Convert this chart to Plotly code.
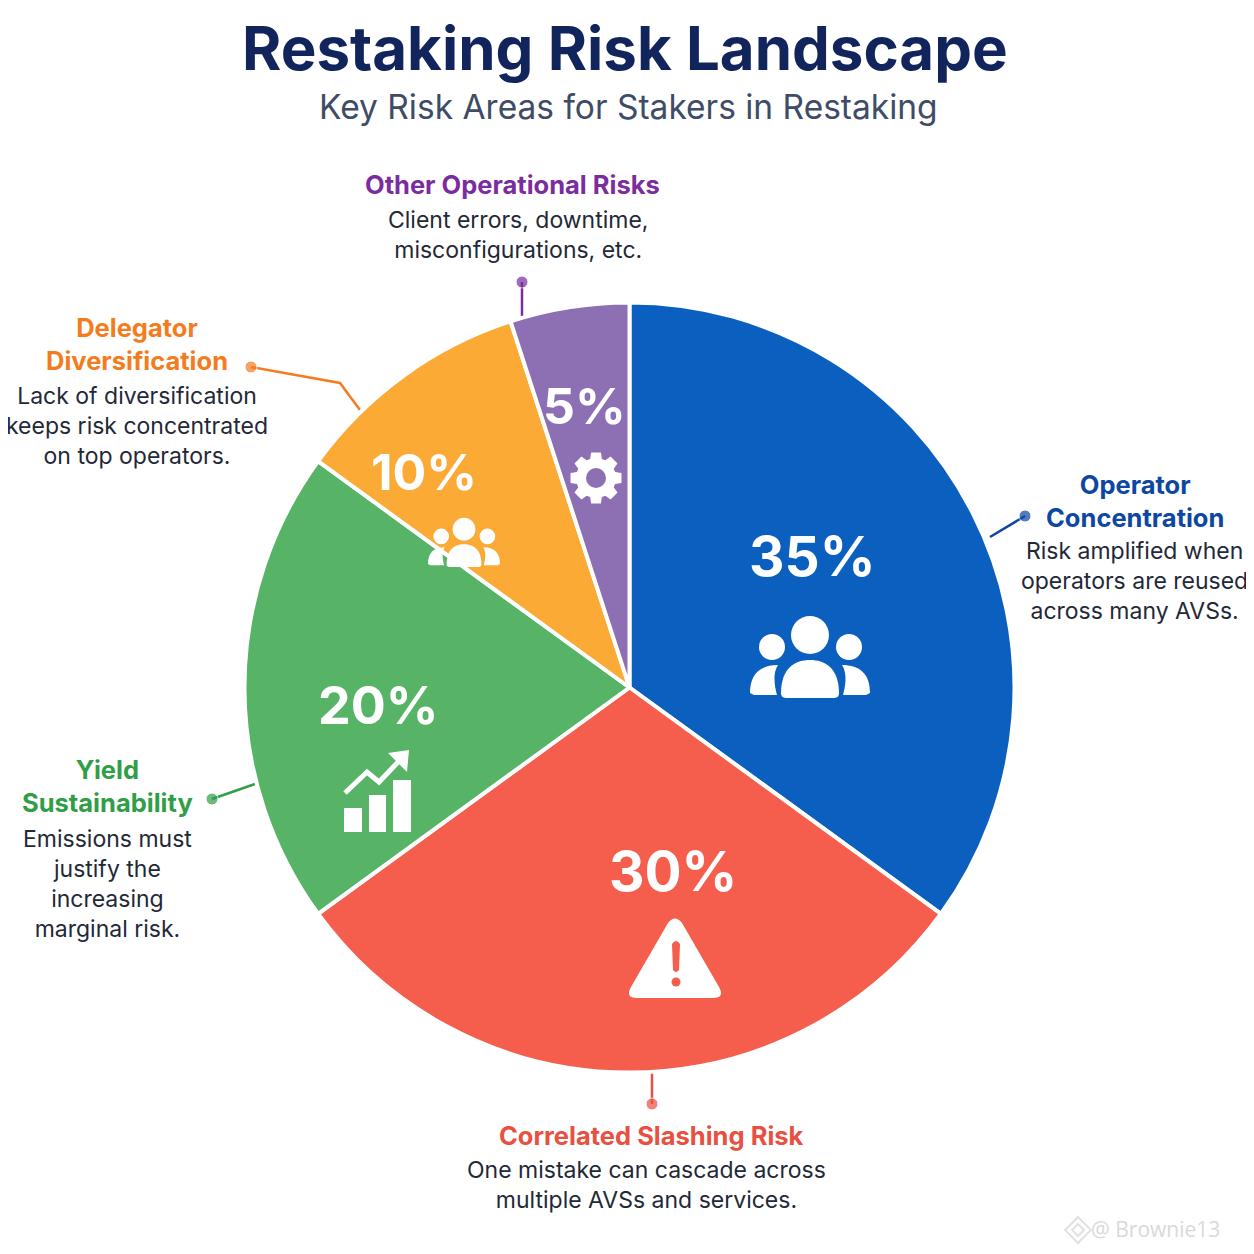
import math
import plotly.graph_objects as go

# Datos
categories = ['Operator Concentration', 'Correlated Slashing Risk', 'Yield Sustainability',
              'Delegator Diversification', 'Other Operational Risks']
values = [35, 30, 20, 10, 5]

# Paleta
slice_colors = ['#0b5fbe', '#f55e4d', '#57b366', '#fbaa35', '#8d6fb4']
head_colors = ['#0d47a1', '#e8503f', '#2f9e47', '#f47c20', '#7b2c9e']
C_BODY = '#1f2937'
C_TITLE = '#12245c'
C_SUB = '#3e4c66'
FONT = 'Inter, sans-serif'

# El body de la página deja 8px de margen; los ejes van en píxeles de la referencia
W = 1238
CX, CY, R = 629.5, 687.5, 385

headings = ['Operator<br>Concentration', 'Correlated Slashing Risk', 'Yield<br>Sustainability',
            'Delegator<br>Diversification', 'Other Operational Risks']
heading_pos = [(1135, 501), (651, 1135), (107, 786), (137, 344), (512, 184)]
bodies = ['Risk amplified when<br>operators are reused<br>across many AVSs.',
          'One mistake can cascade across<br>multiple AVSs and services.',
          'Emissions must<br>justify the<br>increasing<br>marginal risk.',
          'Lack of diversification<br>keeps risk concentrated<br>on top operators.',
          'Client errors, downtime,<br>misconfigurations, etc.']
body_pos = [(1134, 581), (646, 1185), (107, 884), (137, 426), (518, 235)]
pct_pos = [(812, 556), (673, 871), (378, 705), (424, 472), (584, 406)]
pct_size = [55, 55, 52, 50, 50]
leaders = [[(990, 537), (1025, 516)],
           [(652, 1070), (652, 1104)],
           [(258, 783), (212, 799)],
           [(360, 410), (340, 383), (251, 367)],
           [(522, 320), (522, 282)]]


def circle(x, y, r, color='white'):
    return dict(type='circle', xref='x', yref='y', x0=x - r, x1=x + r, y0=y - r, y1=y + r,
                fillcolor=color, line_width=0, layer='above')


def path(d, fill='white', line=None, width=0):
    return dict(type='path', xref='x', yref='y', path=d, fillcolor=fill, layer='above',
                line=dict(color=line or 'rgba(0,0,0,0)', width=width))


def people_icon(cx, cy, s):
    """Icono de tres personas; (cx, cy) es la base del icono."""
    def body(x0, x1, top, bottom):
        x0, x1 = cx + x0 * s, cx + x1 * s
        top, bottom = cy + top * s, cy + bottom * s
        k = (x1 - x0) * 0.08
        return (f'M{x0},{bottom - k} C{x0},{top + (bottom - top) * 0.2} {x0 + (x1 - x0) * 0.25},{top} '
                f'{(x0 + x1) / 2},{top} C{x1 - (x1 - x0) * 0.25},{top} {x1},{top + (bottom - top) * 0.2} '
                f'{x1},{bottom - k} Q{x1},{bottom} {x1 - k},{bottom} L{x0 + k},{bottom} Q{x0},{bottom} {x0},{bottom - k} Z')
    return [circle(cx, cy - 63 * s, 19 * s), circle(cx - 38 * s, cy - 51 * s, 13 * s),
            circle(cx + 39 * s, cy - 51 * s, 13 * s),
            path(body(-29, 29, -38, 0)),
            path(f'M{cx - 60 * s},{cy - 5 * s} C{cx - 60 * s},{cy - 24 * s} {cx - 50 * s},{cy - 33 * s} '
                 f'{cx - 32 * s},{cy - 33 * s} C{cx - 38 * s},{cy - 24 * s} {cx - 35 * s},{cy - 10 * s} {cx - 33 * s},{cy - 3 * s} '
                 f'L{cx - 56 * s},{cy - 3 * s} Z'),
            path(f'M{cx + 60 * s},{cy - 5 * s} C{cx + 60 * s},{cy - 24 * s} {cx + 50 * s},{cy - 33 * s} '
                 f'{cx + 32 * s},{cy - 33 * s} C{cx + 38 * s},{cy - 24 * s} {cx + 35 * s},{cy - 10 * s} {cx + 33 * s},{cy - 3 * s} '
                 f'L{cx + 56 * s},{cy - 3 * s} Z')]


def gear_icon(cx, cy, r_out, r_in, hole, color):
    pts = []
    teeth = 8
    for i in range(teeth):
        a = 2 * math.pi * i / teeth - math.pi / 2
        for da, rr in [(-0.30, r_in), (-0.19, r_out), (0.19, r_out), (0.30, r_in)]:
            pts.append((cx + rr * math.cos(a + da), cy + rr * math.sin(a + da)))
    d = 'M' + ' L'.join(f'{x:.1f},{y:.1f}' for x, y in pts) + ' Z'
    return [path(d), circle(cx, cy, hole, color)]


def chart_icon():
    shapes = []
    for x0, x1, top in [(344, 362, 808), (369, 386, 795), (393, 411, 780)]:
        shapes.append(dict(type='rect', xref='x', yref='y', x0=x0, x1=x1, y0=top, y1=832,
                           fillcolor='white', line_width=0, layer='above'))
    shapes.append(path('M345,793 L367,772 L379,782 L400,760', fill='rgba(0,0,0,0)', line='white', width=5))
    shapes.append(path('M409,750 L388,753 L407,772 Z'))
    return shapes


def warning_icon(color):
    tri = ('M668,923 Q675,914 682,923 L719,987 Q725,998 713,998 L637,998 Q625,998 631,987 Z')
    bar = 'M672,944 Q676,938 680,944 L679,970 Q676,974 673,970 Z'
    return [path(tri), path(bar, fill=color), circle(676, 982, 4.5, color)]


fig = go.Figure()

fig.add_trace(go.Pie(
    labels=categories, values=values, sort=False, direction='clockwise', rotation=0,
    marker=dict(colors=slice_colors, line=dict(color='white', width=4)),
    textinfo='none', showlegend=False,
    domain=dict(x=[(CX - R - 8) / W, (CX + R - 8) / W],
                y=[1 - (CY + R - 8) / W, 1 - (CY - R - 8) / W]),
))

# Líneas guía con su punto final
for pts, color in zip(leaders, head_colors):
    fig.add_trace(go.Scatter(
        x=[p[0] for p in pts], y=[p[1] for p in pts], mode='lines+markers',
        line=dict(color=color, width=2.5),
        marker=dict(color=color, size=[0] * (len(pts) - 1) + [12]),
        showlegend=False, hoverinfo='skip'))

annotations = [
    dict(x=625, y=48, text='<b>Restaking Risk Landscape</b>', font=dict(size=60, color=C_TITLE)),
    dict(x=628, y=107, text='Key Risk Areas for Stakers in Restaking', font=dict(size=33.5, color=C_SUB)),
    dict(x=1155, y=1229, text='@ Brownie13', font=dict(size=21, color='#d9d9d9', family='Open Sans, sans-serif')),
]
for i, v in enumerate(values):
    annotations.append(dict(x=heading_pos[i][0], y=heading_pos[i][1], text=f'<b>{headings[i]}</b>',
                            font=dict(size=25.5, color=head_colors[i])))
    annotations.append(dict(x=body_pos[i][0], y=body_pos[i][1], text=bodies[i],
                            font=dict(size=23, color=C_BODY)))
    annotations.append(dict(x=pct_pos[i][0], y=pct_pos[i][1], text=f'<b>{v}%</b>',
                            font=dict(size=pct_size[i], color='white')))
for a in annotations:
    a.update(xref='x', yref='y', showarrow=False, xanchor='center', yanchor='middle', align='center')
    a['font'].setdefault('family', FONT)

shapes = []
shapes += people_icon(810, 698, 1.0)
shapes += people_icon(464, 567, 0.6)
shapes += gear_icon(596, 478, 26, 20, 10, slice_colors[4])
shapes += chart_icon()
shapes += warning_icon(slice_colors[1])
# Marca de agua
shapes.append(path('M1078,1217 L1091,1230 L1078,1243 L1065,1230 Z', fill='rgba(0,0,0,0)', line='#e2e2e2', width=2))
shapes.append(path('M1078,1224 L1084,1230 L1078,1236 L1072,1230 Z', fill='rgba(0,0,0,0)', line='#e2e2e2', width=2))

fig.update_layout(
    width=W, height=W,
    margin=dict(l=0, r=0, t=0, b=0),
    paper_bgcolor='white', plot_bgcolor='white',
    xaxis=dict(range=[8, 8 + W], visible=False, fixedrange=True),
    yaxis=dict(range=[8 + W, 8], visible=False, fixedrange=True),
    annotations=annotations, shapes=shapes,
)

fig.write_html("out.html")
